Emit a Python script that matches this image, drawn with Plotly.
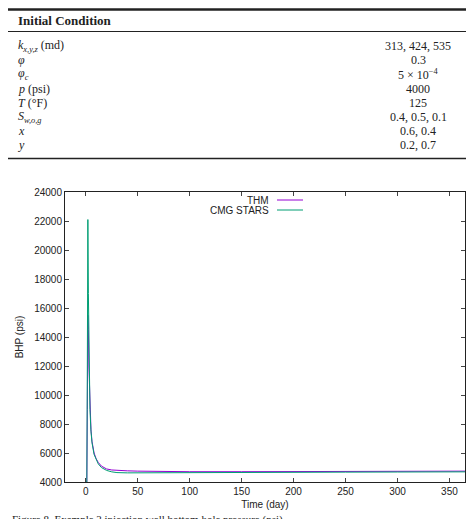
import plotly.graph_objects as go

time_day = [0, 1, 1.5, 2, 2.5, 3, 4, 5, 6, 8, 10, 12, 15, 20, 25, 30, 40, 50, 75, 100, 150, 200, 250, 300, 365]
bhp_thm = [4000, 4000, 9000, 15500, 14500, 12000, 9000, 7600, 6800, 6000, 5600, 5350, 5100, 4900, 4830, 4800, 4770, 4750, 4720, 4710, 4710, 4720, 4730, 4740, 4750]
bhp_cmg = [4000, 4000, 12000, 22100, 17000, 12500, 9000, 7500, 6700, 5900, 5500, 5250, 5000, 4800, 4700, 4650, 4630, 4630, 4640, 4650, 4660, 4670, 4680, 4690, 4700]

table_labels = ["<i>k<sub>x,y,z</sub></i> (md)", "<i>φ</i>", "<i>φ<sub>c</sub></i>", "<i>p</i> (psi)",
                "<i>T</i> (°F)", "<i>S<sub>w,o,g</sub></i>", "<i>x</i>", "<i>y</i>"]
table_values = ["313, 424, 535", "0.3", "5 × 10<sup>−4</sup>", "4000", "125", "0.4, 0.5, 0.1", "0.6, 0.4", "0.2, 0.7"]
series_names = ["THM", "CMG STARS"]
colors = ["#9400d3", "#009e73"]

W, H = 474, 519
L, R, T, B = 57, 17, 184, 45

fig = go.Figure()
for y, n, c in zip([bhp_thm, bhp_cmg], series_names, colors):
    fig.add_trace(go.Scatter(x=time_day, y=y, mode="lines", name=n, line=dict(color=c, width=1),
                             showlegend=False))

def px(x, y):
    return dict(xref="paper", yref="paper", x=(x - L) / (W - L - R), y=1 - (y - T) / (H - T - B))

ann = []
shapes = []
serif = dict(family="Liberation Serif", size=12, color="#222")
ann.append(dict(**px(8, 12), text="<b>Initial Condition</b>", showarrow=False, xanchor="left", yanchor="middle",
                font=dict(family="Liberation Serif", size=13, color="#222")))
for i, (lab, val) in enumerate(zip(table_labels, table_values)):
    yy = 38 + 14.2 * i
    ann.append(dict(**px(8, yy), text=lab, showarrow=False, xanchor="left", yanchor="middle", font=serif))
    ann.append(dict(**px(410, yy), text=val, showarrow=False, xanchor="center", yanchor="middle", font=serif))
for yy, w in [(1.5, 2.5), (23.5, 1), (150.5, 1.5)]:
    p1 = px(0, yy); p2 = px(474, yy)
    shapes.append(dict(type="line", xref="paper", yref="paper", x0=p1["x"], x1=p2["x"], y0=p1["y"], y1=p1["y"],
                       line=dict(color="#222", width=w)))
sans = dict(family="Liberation Sans", size=10, color="#222")
for i, (n, c) in enumerate(zip(series_names, colors)):
    yy = 192 + 10 * i
    ann.append(dict(**px(263, yy), text=n, showarrow=False, xanchor="right", yanchor="middle", font=sans))
    a = px(269, yy); b = px(295, yy)
    shapes.append(dict(type="line", xref="paper", yref="paper", x0=a["x"], x1=b["x"], y0=a["y"], y1=a["y"],
                       line=dict(color=c, width=1)))
ann.append(dict(**px(2, 511), text="Figure 8. Example 2 injection well bottom hole pressure (psi).", showarrow=False,
                xanchor="left", yanchor="middle", font=dict(family="Liberation Serif", size=11, color="#222")))

fig.update_layout(
    width=W, height=H, margin=dict(l=L, r=R, t=T, b=B),
    plot_bgcolor="white", paper_bgcolor="white",
    annotations=ann, shapes=shapes,
    xaxis=dict(range=[-20, 365], tickvals=[0, 50, 100, 150, 200, 250, 300, 350], ticks="inside", ticklen=4,
               mirror="ticks", showline=True, linecolor="#222", linewidth=1, showgrid=False, zeroline=False,
               title=dict(text="Time (day)", font=sans, standoff=4), tickfont=sans),
    yaxis=dict(range=[4000, 24000], dtick=2000, tickformat="d", ticks="inside", ticklen=4, mirror="ticks",
               showline=True, linecolor="#222", linewidth=1, showgrid=False, zeroline=False,
               title=dict(text="BHP (psi)", font=sans, standoff=8), tickfont=sans),
)
fig.write_html("out.html")
